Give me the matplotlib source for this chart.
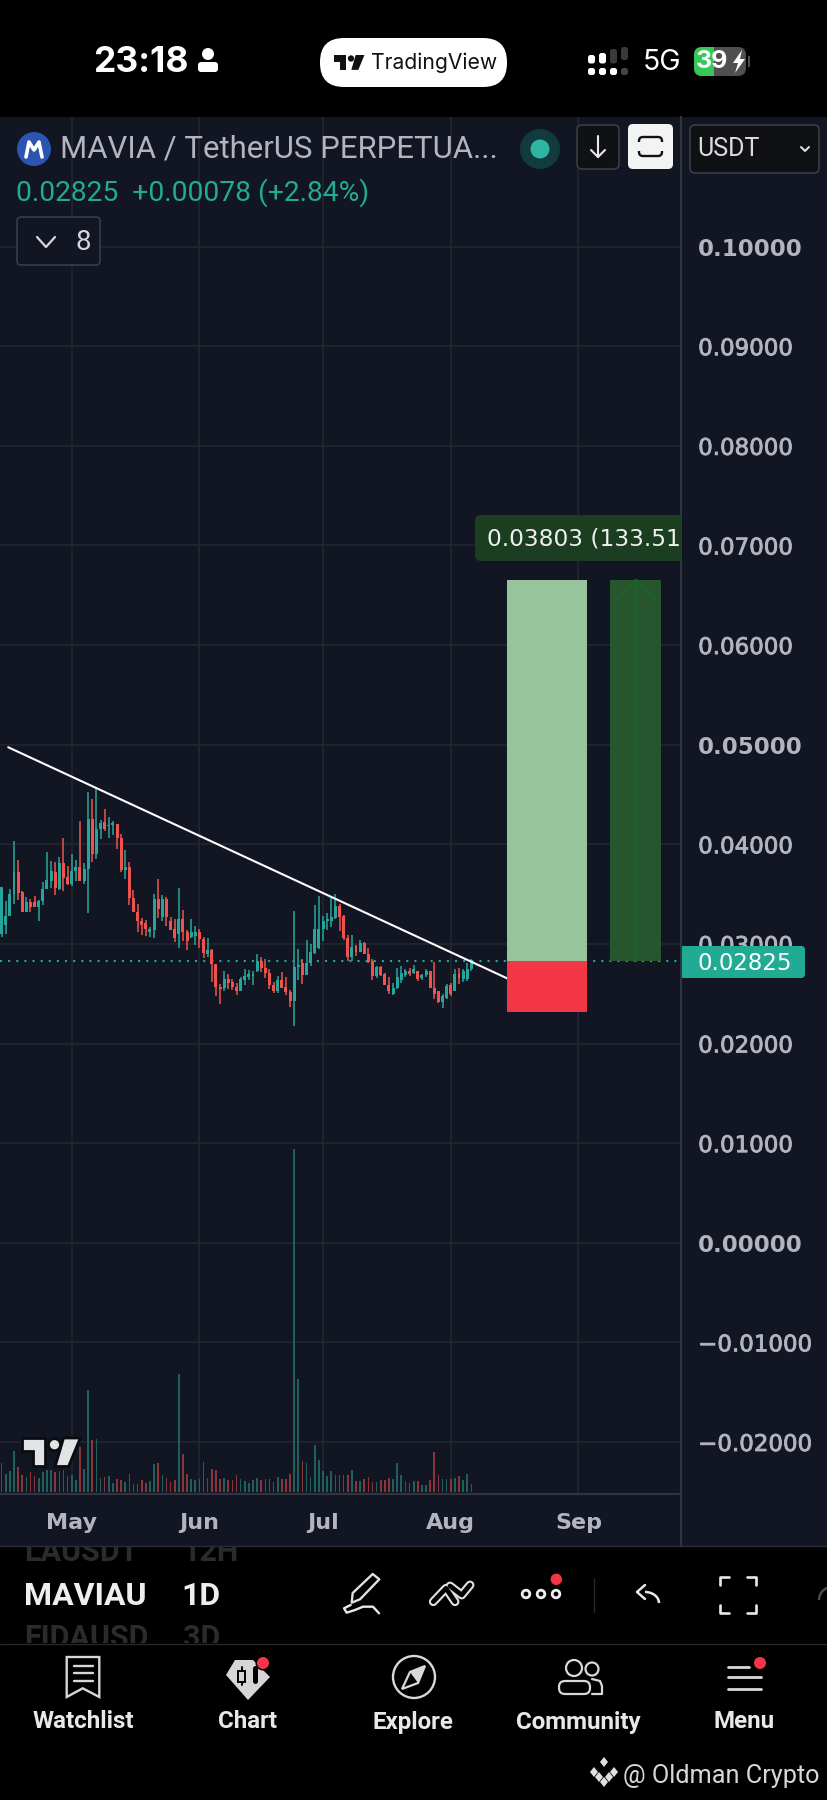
import numpy as np
from matplotlib import pyplot as plt
from matplotlib import patheffects as pe
from matplotlib.patches import Rectangle, Circle, FancyBboxPatch, Polygon, Arc
from matplotlib.lines import Line2D

W, H = 828, 1800

days = np.arange(-17, 98)
opens = [.03100, .03194, .03285, .03497, .03721, .03520, .03319, .03420, .03420, .03369, .03426, .03547, .03627, .03721, .03554, .03815, .03671,
         .03604, .03728, .03772, .03631, .03755, .04252, .03906, .04158, .04225, .04184, .04191, .04208, .04064, .03745, .03772, .03463, .03319, .03228, .03208, .03124,
         .03144, .03446, .03268, .03453, .03235, .03151, .03100, .03252, .03117, .03074, .03077, .03117, .03050, .02899, .02939, .02798, .02570, .02557, .02647, .02614, .02570, .02523, .02637, .02671, .02681, .02725,
         .02825, .02758, .02711, .02590, .02523, .02637, .02564, .02513, .02429, .02765, .02805, .02691, .02808, .02909, .02960, .03151, .03231, .03235, .03262, .03379, .03278, .03057, .02866, .02976, .02923, .03010, .02899, .02832, .02674, .02765, .02698, .02590, .02496, .02553, .02637, .02688, .02731, .02704, .02728, .02654, .02691, .02725, .02557, .02523, .02413, .02453, .02590, .02530, .02698, .02647, .02647, .02745]
closes = [.03570, .03285, .03497, .03721, .03510, .03319, .03423, .03369, .03369, .03426, .03547, .03637, .03728, .03560, .03815, .03664, .03597,
          .03728, .03772, .03631, .03755, .04252, .03906, .04158, .04215, .04158, .04198, .04215, .04064, .03745, .03772, .03463, .03319, .03228, .03194, .03151, .03151,
          .03446, .03352, .03446, .03268, .03144, .03057, .03252, .03117, .03033, .03117, .03117, .03050, .02906, .02939, .02798, .02570, .02547, .02647, .02604, .02570, .02523, .02644, .02678, .02698, .02698, .02825,
          .02758, .02704, .02590, .02523, .02637, .02560, .02513, .02429, .02765, .02788, .02691, .02808, .02923, .03151, .03151, .03235, .03255, .03275, .03379, .03275, .03057, .02866, .02966, .02916, .03010, .02899, .02815, .02681, .02772, .02691, .02590, .02530, .02553, .02664, .02704, .02731, .02698, .02748, .02647, .02691, .02725, .02557, .02496, .02413, .02480, .02580, .02496, .02698, .02654, .02728, .02748, .02825]
highs = [.03570, .03429, .03547, .04030, .03839, .03527, .03470, .03453, .03486, .03436, .03617, .03923, .03832, .03822, .03876, .04067, .03778,
         .03903, .03846, .04231, .03815, .04520, .04450, .04570, .04248, .04352, .04275, .04231, .04208, .04107, .03946, .03825, .03537, .03396, .03258, .03241, .03168,
         .03500, .03654, .03493, .03470, .03275, .03252, .03564, .03345, .03144, .03252, .03184, .03151, .03074, .03060, .02949, .02798, .02597, .02731, .02698, .02644, .02611, .02671, .02748, .02738, .02731, .02899,
         .02869, .02849, .02748, .02614, .02681, .02721, .02671, .02537, .03329, .02949, .02849, .03037, .03000, .03392, .03480, .03285, .03312, .03470, .03497, .03403, .03288, .03087, .03094, .02990, .03040, .03023, .02960, .02849, .02782, .02782, .02704, .02671, .02607, .02762, .02778, .02745, .02762, .02792, .02731, .02698, .02751, .02728, .02822, .02530, .02496, .02597, .02604, .02748, .02762, .02745, .02805, .02852]
lows = [.03067, .03100, .03278, .03396, .03443, .03319, .03319, .03322, .03369, .03228, .03386, .03547, .03564, .03493, .03537, .03530, .03594,
        .03580, .03627, .03627, .03597, .03312, .03822, .03849, .04057, .04138, .04064, .04090, .03950, .03721, .03651, .03392, .03319, .03117, .03090, .03084, .03074,
        .03057, .03262, .03235, .03178, .03144, .03023, .02963, .03033, .02939, .03060, .02990, .02960, .02855, .02872, .02614, .02480, .02396, .02530, .02547, .02537, .02490, .02523, .02590, .02641, .02584, .02714,
        .02715, .02658, .02547, .02506, .02506, .02560, .02490, .02362, .02174, .02641, .02597, .02688, .02782, .02899, .02949, .03027, .03144, .03174, .03252, .03134, .03037, .02825, .02832, .02882, .02916, .02896, .02809, .02641, .02658, .02674, .02587, .02496, .02490, .02547, .02607, .02664, .02678, .02698, .02631, .02637, .02671, .02557, .02443, .02402, .02352, .02443, .02480, .02523, .02597, .02620, .02627, .02725]
volumes = [87, 54, 63, 123, 76, 52, 45, 62, 49, 43, 60, 66, 66, 60, 64, 66, 49,
           51, 36, 135, 69, 307, 157, 159, 43, 45, 48, 27, 40, 37, 31, 56, 26, 26, 37, 28, 35,
           84, 87, 52, 43, 30, 36, 354, 115, 54, 39, 37, 39, 91, 43, 71, 66, 41, 42, 37, 37, 51, 41, 34, 27, 36, 42,
           37, 40, 41, 30, 45, 39, 39, 54, 1030, 339, 94, 87, 46, 143, 96, 64, 49, 63, 52, 51, 51, 53, 66, 34, 34, 39, 47, 30, 30, 36, 36, 43, 39, 87, 51, 34, 28, 34, 34, 22, 22, 36, 122, 53, 41, 40, 41, 43, 48, 37, 54, 25]

price_ticks = [-0.02, -0.01, 0.0, 0.01, 0.02, 0.03, 0.04, 0.05, 0.06, 0.07, 0.08, 0.09, 0.10]
bold_prices = [0.0, 0.05, 0.10]
month_days = [0, 31, 61, 92, 123]
month_names = ['May', 'Jun', 'Jul', 'Aug', 'Sep']

last_price = 0.02825
target_price = 0.06653
stop_price = 0.02312
trend_days = [-15.4, 105.7]
trend_prices = [0.04974, 0.02654]
long_days = [105.65, 125.1]
arrow_days = [130.7, 143.0]

PANE = '#121622'
GRID = '#22262f'
AXIS = '#30343e'
TEAL = '#26a69a'
TAG = '#22ab94'
RED = '#ef5350'
VOL_TEAL = '#1f5f5e'
VOL_RED = '#8a3539'
LABEL = '#b2b5be'
SANS = ['Roboto', 'DejaVu Sans']
INTER = ['Inter', 'DejaVu Sans']


def px_axes(x0, y0, x1, y1):
    return [x0 / W, 1 - y1 / H, (x1 - x0) / W, (y1 - y0) / H]


fig = plt.figure(figsize=(W / 100, H / 100), dpi=100, facecolor='black')

# backdrop of the app
back = fig.add_axes([0, 0, 1, 1], zorder=-1)
back.set_xlim(0, W)
back.set_ylim(H, 0)
back.axis('off')
back.add_patch(Rectangle((0, 117), W, 1429, color=PANE, lw=0))
back.plot([0, W], [1546, 1546], color='#2a2d35', lw=1)
back.plot([681.5, 681.5], [1493, 1546], color=AXIS, lw=1.5)

# price pane
ax = fig.add_axes(px_axes(0, 117, 681.5, 1493.5))
ax.patch.set_alpha(0)
ax.set_xlim(-17.4, 148)
ax.set_ylim(-0.02517, 0.11301)
for s in ['top', 'left']:
    ax.spines[s].set_visible(False)
for s in ['right', 'bottom']:
    ax.spines[s].set_color(AXIS)
    ax.spines[s].set_linewidth(1.5)
ax.yaxis.tick_right()
ax.set_yticks(price_ticks)
ax.set_yticklabels([f'{p:.5f}'.replace('-', '\u2212') for p in price_ticks])
ax.tick_params(axis='y', length=0, pad=12, labelsize=16.5, labelcolor=LABEL)
for lab, p in zip(ax.get_yticklabels(), price_ticks):
    if p in bold_prices:
        lab.set_fontweight('bold')
    else:
        lab.set_path_effects([pe.withStroke(linewidth=0.6, foreground=LABEL)])
    lab.set_va('center_baseline')
ax.set_xticks(month_days)
ax.set_xticklabels(month_names, fontweight='bold')
ax.tick_params(axis='x', length=0, pad=14, labelsize=16, labelcolor=LABEL)
ax.grid(color=GRID, lw=1.2)
ax.set_axisbelow(True)

opens_a, closes_a = np.array(opens), np.array(closes)
up = closes_a >= opens_a
colors = np.where(up, TEAL, RED)

ax.axhline(last_price, color=TAG, ls=(0, (1, 2.9)), lw=1.5, zorder=2)
ax.vlines(days, lows, highs, colors=colors, lw=1.1, zorder=3)
ax.bar(days, np.abs(closes_a - opens_a), bottom=np.minimum(opens_a, closes_a), width=0.72, color=colors, lw=0, zorder=3)
ax.plot(trend_days, trend_prices, color='white', lw=1.5, zorder=4, solid_capstyle='round')

# long position tool
ax.bar(np.mean(long_days), target_price - last_price, bottom=last_price, width=long_days[1] - long_days[0], color='#97c49a', lw=0, zorder=5)
ax.bar(np.mean(long_days), last_price - stop_price, bottom=stop_price, width=long_days[1] - long_days[0], color='#f23645', lw=0, zorder=5)
ax.bar(np.mean(arrow_days), target_price - last_price, bottom=last_price, width=arrow_days[1] - arrow_days[0], color='#27562e', lw=0, zorder=5)
arrow_x = np.mean(arrow_days)
ax.plot([arrow_x, arrow_x], [last_price, target_price], color='#1a6328', lw=1.5, zorder=6)
ax.plot([arrow_x - 4.8, arrow_x, arrow_x + 4.8], [target_price - 0.002, target_price, target_price - 0.002], color='#1a6328', lw=1.5, zorder=6)

# volume, own scale on the same pane
vax = fig.add_axes(px_axes(0, 117, 681.5, 1493.5), sharex=ax)
vax.patch.set_alpha(0)
vax.set_ylim(-3, 4126)
vax.axis('off')
vax.bar(days, volumes, width=0.4, color=np.where(up, VOL_TEAL, VOL_RED), lw=0)

# everything of the app on top of the chart
ui = fig.add_axes([0, 0, 1, 1], zorder=10)
ui.set_xlim(0, W)
ui.set_ylim(H, 0)
ui.axis('off')
ui.patch.set_alpha(0)


def txt(x, y, s, size, color='white', ha='left', weight='normal', family=None, clip=None):
    t = ui.text(x, y, s, fontsize=size, color=color, ha=ha, va='center', fontweight=weight, family=family or SANS)
    if clip is not None:
        t.set_clip_on(True)
        t.set_clip_path(Rectangle(clip[:2], clip[2], clip[3], transform=ui.transData))
    return t


def box(x0, y0, x1, y1, r, fc, ec='none', lw=1.0, z=2):
    ui.add_patch(FancyBboxPatch((x0 + r, y0 + r), x1 - x0 - 2 * r, y1 - y0 - 2 * r, boxstyle=f'round,pad={r}',
                                fc=fc, ec=ec, lw=lw, zorder=z))


def stroke(xs, ys, color='#e8e8e8', lw=2.0, z=3):
    ui.add_line(Line2D(xs, ys, color=color, lw=lw, zorder=z, solid_capstyle='round', solid_joinstyle='round'))


def tv_logo(x, y, k, color, edge=None):
    # T, dot and slash of the logo, in units of the mark
    t = [(0, 0), (69, 0), (69, 85), (34, 85), (34, 40), (0, 40)]
    s = [(124, 0), (174, 0), (139, 85), (99, 85)]
    for pts in (t, s):
        ui.add_patch(Polygon([(x + a * k, y + b * k) for a, b in pts], fc=color, ec=edge or 'none', lw=2 if edge else 0, zorder=4))
    ui.add_patch(Circle((x + 97 * k, y + 20 * k), 18 * k, fc=color, ec=edge or 'none', lw=2 if edge else 0, zorder=4))


# status bar
txt(93, 62, '23:18', 25.6, weight='bold', family=INTER)
ui.add_patch(Circle((208, 54), 6, fc='white', lw=0))
ui.add_patch(FancyBboxPatch((201, 65), 14, 4, boxstyle='round,pad=3', fc='white', lw=0))
box(320, 38, 507, 87, 24, 'white')
tv_logo(334, 55, 0.175, '#111111')
txt(371, 63, 'TradingView', 15.2, color='#111111', family=INTER)
# signal bars: upper row grows, lower row of dots
for x, top in zip([588, 599, 610], [55, 53, 49]):
    box(x, top, x + 7, 63.5, 2.5, 'white' if x < 610 else '#3a3a3a')
box(621, 47, 628, 60, 2.5, '#3a3a3a')
for x in [588, 599, 610, 621]:
    box(x, 68, x + 7, 75, 2.5, 'white' if x < 621 else '#444444')
txt(643, 62.5, '5G', 20.5, family=INTER)
box(694, 47, 746, 76, 8, '#4f4f4f')
box(694, 47, 724, 76, 8, '#34c759')
ui.add_patch(Rectangle((714, 47), 12, 29, color='#4f4f4f', lw=0, zorder=2))
ui.add_patch(Rectangle((748, 56), 2, 11, color='#4f4f4f', lw=0))
txt(696, 62, '39', 18, weight='bold', family=INTER).set_zorder(4)
ui.add_patch(Polygon([(742, 50), (733, 63), (738, 63), (735, 73), (745, 59), (740, 59)], fc='white', lw=0, zorder=4))

# legend row
ui.add_patch(Circle((34, 149), 17, fc='#2b55b0', lw=0))
stroke([26, 29, 34, 39, 42], [157, 142, 150, 142, 157], color='white', lw=2.6)
txt(60, 149, 'MAVIA / TetherUS PERPETUA...', 22.4, color=LABEL)
ui.add_patch(Circle((540, 149), 20, fc='#123b3d', lw=0))
ui.add_patch(Circle((540, 149), 9.5, fc='#2fb5a4', lw=0))
box(577, 125, 619, 169, 5, '#101114', ec='#3a3d45', lw=1.2)
stroke([598, 598], [136, 157], lw=1.5)
stroke([591, 598, 605], [150, 157, 150], lw=1.5)
box(628, 124, 673, 169, 5, '#f2f3f3')
box(639, 137, 662, 156, 4, '#f2f3f3', ec='#111111', lw=1.7, z=3)
ui.add_patch(Rectangle((636, 142), 29, 9, color='#f2f3f3', lw=0, zorder=3))
box(690, 125, 819, 173, 5, '#101114', ec='#3a3d45', lw=1.2)
txt(697, 149, 'USDT', 18, color='#dcdcdc')
stroke([801, 805, 809], [147, 151, 147], lw=1.4)
txt(16, 193, '0.02825  +0.00078 (+2.84%)', 20.3, color=TAG)
box(17, 217, 100, 265, 4, PANE, ec='#3a3d45', lw=1.2)
stroke([37, 46, 55], [237, 247, 237], color='#d8d8d8', lw=1.6)
txt(76, 242, '8', 20, color='#d8d8d8')

# chart overlays
tv_logo(22, 1438, 0.335, '#e2e3e5', edge='#0b0c0f')

# last price tag
ui.add_patch(Rectangle((682, 946), 118, 32, color=TAG, lw=0, zorder=4))
box(780, 946, 805, 978, 4, TAG, z=4)
txt(698, 963, '0.02825', 16.5, color='white', family='DejaVu Sans').set_zorder(5)

# position label, cut off by the price scale
lab_bg = FancyBboxPatch((481, 521), 215, 34, boxstyle='round,pad=6', fc='#1b3d20', lw=0, zorder=6)
ui.add_patch(lab_bg)
lab_bg.set_clip_path(Rectangle((470, 510), 211, 60, transform=ui.transData))
lab = txt(487, 539, '0.03803 (133.51%)', 16.8, color='#f0f0f0', family='DejaVu Sans', clip=(470, 510, 211, 60))
lab.set_zorder(7)

# symbol and interval picker
clip_a = (0, 1547, 147, 96)
clip_b = (150, 1547, 120, 96)
txt(24, 1596, 'MAVIAU', 23, weight='bold', color='#eeeeee', clip=clip_a)
txt(181, 1596, '1D', 23, weight='bold', color='#eeeeee')
txt(24, 1552, 'LAUSDT', 22, weight='bold', color='#2a2b2d', clip=clip_a)
txt(183, 1552, '12H', 22, weight='bold', color='#2a2b2d', clip=clip_b)
txt(24, 1638, 'FIDAUSDT', 22, weight='bold', color='#2a2b2d', clip=clip_a)
txt(183, 1638, '3D', 22, weight='bold', color='#2a2b2d', clip=clip_b)
stroke([0, W], [1644, 1644], color='#26282c', lw=1)

# toolbar icons
ui.add_patch(Polygon([(352.7, 1593), (372.7, 1574), (379.3, 1579.3), (360, 1599.3), (351.7, 1602.7)], fc='none', ec='#e0e0e0', lw=1.7, joinstyle='round'))
stroke([350.7, 344, 346.7, 355, 363, 373, 379], [1605, 1608.3, 1612.7, 1610, 1606.7, 1606.7, 1613.3], lw=1.7)
for xs, ys in [([433.3, 446, 455], [1601.7, 1588.3, 1601.7]), ([450, 461.7, 470], [1586, 1595, 1585])]:
    stroke(xs, ys, color='#e0e0e0', lw=6.4)
    stroke(xs, ys, color='black', lw=3.4, z=4)
for cx in [526, 541, 556]:
    ui.add_patch(Circle((cx, 1594), 3.8, fc='none', ec='#f0f0f0', lw=2.0))
ui.add_patch(Circle((556.3, 1579.3), 5.7, fc='#f23645', lw=0, zorder=4))
stroke([594, 594], [1578, 1612], color='#2c2426', lw=1)
stroke([645, 637, 645], [1585, 1592, 1599], lw=1.8)
ui.add_patch(Arc((645, 1603), 28, 22, theta1=270, theta2=360, ec='#e8e8e8', lw=1.8))
for sx, sy in [(-1, -1), (1, -1), (-1, 1), (1, 1)]:
    cx, cy = 738.5 + sx * 18, 1594.5 + sy * 18
    stroke([cx, cx, cx - sx * 9], [cy - sy * 8, cy, cy], lw=1.9)
ui.add_patch(Arc((832, 1600), 26, 26, theta1=180, theta2=270, ec='#4a4a4a', lw=1.8))

# tab bar
tab_names = ['Watchlist', 'Chart', 'Explore', 'Community', 'Menu']
tab_x = [83, 248, 413, 578, 744]
for name, x in zip(tab_names, tab_x):
    txt(x, 1722, name, 17.4, color='#e8e8e8', ha='center', weight='bold')
ui.add_patch(Polygon([(66.7, 1657), (99.3, 1657), (99.3, 1697), (82.7, 1688.3), (66.7, 1697)], fc='none', ec='#d8d8d8', lw=1.7))
for yy in [1665.7, 1673.3, 1681]:
    stroke([74, 92.7], [yy, yy], color='#d8d8d8', lw=1.7)
ui.add_patch(Polygon([(235, 1660), (253, 1660), (270, 1677), (248, 1700), (226, 1675)], fc='#d5d6d8', lw=0))
stroke([241.7, 241.7], [1667, 1685], color='black', lw=1.4, z=4)
ui.add_patch(Rectangle((238.5, 1671), 6.5, 10.5, fc='#d5d6d8', ec='black', lw=1.4, zorder=5))
stroke([255.5, 255.5], [1668, 1681], color='black', lw=3.6, z=4)
ui.add_patch(Circle((263, 1663), 7.5, fc='black', lw=0, zorder=4))
ui.add_patch(Circle((263, 1663), 6, fc='#f23645', lw=0, zorder=5))
ui.add_patch(Circle((414, 1677), 21, fc='none', ec='#d8d8d8', lw=1.7))
ui.add_patch(Polygon([(425, 1666), (418, 1683), (402, 1689), (410, 1672)], fc='none', ec='#d8d8d8', lw=1.6))
ui.add_patch(Polygon([(425, 1666), (418, 1683), (410, 1672)], fc='#d8d8d8', lw=0))
ui.add_patch(Circle((574, 1668), 8, fc='none', ec='#d8d8d8', lw=1.6))
ui.add_patch(Circle((592, 1669), 6.5, fc='none', ec='#d8d8d8', lw=1.6))
box(559, 1681, 590, 1694, 6, 'black', ec='#d8d8d8', lw=1.6)
stroke([592, 600, 602, 602, 592], [1679, 1681, 1686, 1694, 1694], color='#d8d8d8', lw=1.6)
stroke([728, 749], [1667, 1667], color='#d8d8d8', lw=2)
stroke([728, 761], [1677, 1677], color='#d8d8d8', lw=2)
stroke([728, 761], [1689, 1689], color='#d8d8d8', lw=2)
ui.add_patch(Circle((760, 1663), 6, fc='#f23645', lw=0, zorder=4))

# watermark
for dx, dy in [(0, -13), (-10, -3), (10, -3), (0, 7), (-5, 2), (5, 2)]:
    ui.add_patch(Polygon([(604 + dx, 1775 + dy - 5), (604 + dx + 4, 1775 + dy), (604 + dx, 1775 + dy + 5), (604 + dx - 4, 1775 + dy)], fc='#e0e0e0', lw=0))
txt(623, 1776, '@ Oldman Crypto', 18.2, color='#d8d8d8')

fig.savefig('out.png', dpi=100, facecolor='black')
